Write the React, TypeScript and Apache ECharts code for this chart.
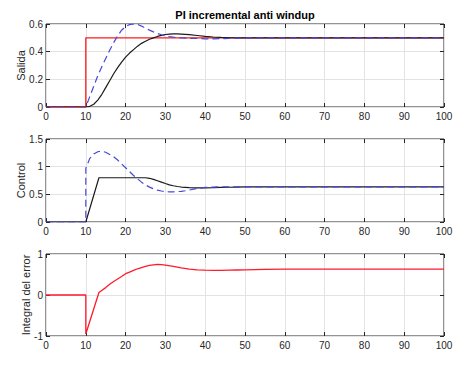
import React, { useEffect, useRef } from "react";
import * as echarts from "echarts";

const chartTitle = "PI incremental anti windup";
const yNames = ["Salida", "Control", "Integral del error"];
const xTicks = { min: 0, max: 100, interval: 10 };

// Salida (output)
const tRef = [0, 10, 10, 100];
const referencia = [0, 0, 0.5, 0.5];
const tSal = [0, 10, 11, 12, 13, 14, 15, 16, 17, 18, 19, 20, 21, 22, 23, 24, 25, 26, 27, 28, 29, 30, 31, 32, 33, 34, 36, 38, 40, 42, 44, 46, 48, 50, 55, 60, 100];
const salidaAW = [0, 0, 0.005, 0.02, 0.05, 0.09, 0.14, 0.19, 0.24, 0.285, 0.325, 0.36, 0.39, 0.415, 0.44, 0.46, 0.475, 0.49, 0.5, 0.51, 0.518, 0.524, 0.527, 0.528, 0.528, 0.527, 0.523, 0.517, 0.511, 0.506, 0.503, 0.501, 0.5, 0.5, 0.5, 0.5, 0.5];
const salidaSinAW = [0, 0, 0.075, 0.15, 0.225, 0.29, 0.35, 0.41, 0.465, 0.515, 0.555, 0.582, 0.596, 0.6, 0.597, 0.585, 0.57, 0.556, 0.543, 0.532, 0.522, 0.514, 0.509, 0.505, 0.502, 0.5, 0.497, 0.495, 0.493, 0.493, 0.494, 0.496, 0.498, 0.499, 0.5, 0.5, 0.5];

// Control
const tCtrlAW = [0, 10, 13.3, 24.5, 25, 26, 27, 28, 29, 30, 31, 32, 33, 34, 36, 38, 40, 42, 44, 46, 48, 50, 55, 60, 100];
const controlAW = [0, 0, 0.8, 0.8, 0.8, 0.79, 0.77, 0.745, 0.72, 0.695, 0.672, 0.655, 0.642, 0.632, 0.622, 0.618, 0.618, 0.62, 0.624, 0.628, 0.631, 0.633, 0.635, 0.635, 0.635];
const tCtrlSin = [0, 10, 10, 11, 12, 13, 14, 15, 16, 17, 18, 19, 20, 21, 22, 23, 24, 25, 26, 27, 28, 29, 30, 31, 32, 33, 34, 35, 36, 38, 40, 42, 44, 46, 48, 50, 55, 60, 100];
const controlSinAW = [0, 0, 0.97, 1.15, 1.23, 1.27, 1.28, 1.26, 1.22, 1.18, 1.12, 1.05, 0.98, 0.91, 0.84, 0.78, 0.72, 0.67, 0.63, 0.6, 0.575, 0.56, 0.55, 0.545, 0.545, 0.55, 0.555, 0.565, 0.578, 0.605, 0.625, 0.632, 0.636, 0.637, 0.636, 0.635, 0.635, 0.635, 0.635];

// Integral del error
const tInt = [0, 10, 10, 13.3, 14, 15, 16, 17, 18, 19, 20, 21, 22, 23, 24, 25, 26, 27, 28, 29, 30, 32, 34, 36, 38, 40, 42, 44, 46, 48, 50, 55, 60, 100];
const integralError = [0, 0, -0.95, 0.06, 0.11, 0.18, 0.26, 0.33, 0.39, 0.45, 0.52, 0.56, 0.6, 0.64, 0.67, 0.7, 0.72, 0.735, 0.745, 0.74, 0.73, 0.7, 0.66, 0.63, 0.615, 0.605, 0.6, 0.6, 0.605, 0.61, 0.615, 0.625, 0.63, 0.63];

const yRanges = [
  { min: 0, max: 0.6, interval: 0.2 },
  { min: 0, max: 1.5, interval: 0.5 },
  { min: -1, max: 1, interval: 1 },
];

const zip = (t: number[], v: number[]) => t.map((x, i) => [x, v[i]]);

const FONT = "'Liberation Sans', Arial, Helvetica, sans-serif";
const AXC = "#262626";

export default function App() {
  const ref = useRef<HTMLDivElement>(null);
  useEffect(() => {
    if (!ref.current) return;
    const chart = echarts.init(ref.current, undefined, { renderer: "svg" });
    const grids = [
      { left: 46, top: 24, width: 398, height: 83 },
      { left: 46, top: 139, width: 398, height: 83 },
      { left: 46, top: 254, width: 398, height: 82 },
    ].map((g) => ({ ...g, show: true, borderColor: AXC, borderWidth: 1, backgroundColor: "#fff" }));

    const xAxes: any[] = [];
    const yAxes: any[] = [];
    const nameGaps = [20, 20, 15];
    const tick = { show: true, inside: true, length: 4, lineStyle: { color: AXC } };
    grids.forEach((_, gi) => {
      xAxes.push({
        type: "value", gridIndex: gi, position: "bottom", ...xTicks,
        axisLine: { show: false, onZero: false },
        axisTick: tick,
        axisLabel: { color: AXC, fontSize: 10, fontFamily: FONT, margin: 4 },
        splitLine: { show: true, lineStyle: { color: "#e3e3e3", width: 1 } },
      });
      xAxes.push({
        type: "value", gridIndex: gi, position: "top", ...xTicks,
        axisLine: { show: false, onZero: false },
        axisTick: tick,
        axisLabel: { show: false },
        splitLine: { show: false },
      });
      yAxes.push({
        type: "value", gridIndex: gi, position: "left", ...yRanges[gi],
        name: yNames[gi], nameLocation: "middle", nameRotate: 90, nameGap: nameGaps[gi],
        nameMoveOverlap: false,
        nameTextStyle: { color: AXC, fontSize: 11, fontFamily: FONT },
        axisLine: { show: false, onZero: false },
        axisTick: tick,
        axisLabel: { color: AXC, fontSize: 10, fontFamily: FONT, margin: 3 },
        splitLine: { show: true, lineStyle: { color: "#e3e3e3", width: 1 } },
      });
      yAxes.push({
        type: "value", gridIndex: gi, position: "right", ...yRanges[gi],
        axisLine: { show: false, onZero: false },
        axisTick: tick,
        axisLabel: { show: false },
        splitLine: { show: false },
      });
    });

    const line = (data: number[][], gi: number, color: string, dashed = false, width = 1.2) => ({
      type: "line",
      xAxisIndex: gi * 2,
      yAxisIndex: gi * 2,
      data,
      showSymbol: false,
      symbol: "none",
      lineStyle: { color, width, type: dashed ? [7, 4] : "solid" },
    });

    chart.setOption({
      animation: false,
      backgroundColor: "#fff",
      grid: grids,
      xAxis: xAxes,
      yAxis: yAxes,
      graphic: [
        {
          type: "text", x: 245, y: 9,
          style: { text: chartTitle, font: `bold 11px ${FONT}`, fill: "#000", textAlign: "center" },
        },
      ],
      series: [
        line(zip(tRef, referencia), 0, "#ff1a1a", false, 1.3),
        line(zip(tSal, salidaAW), 0, "#1a1a1a"),
        line(zip(tSal, salidaSinAW), 0, "#4848d8", true),
        line(zip(tCtrlAW, controlAW), 1, "#1a1a1a"),
        line(zip(tCtrlSin, controlSinAW), 1, "#4848d8", true),
        line(zip(tInt, integralError), 2, "#ff1a2a", false, 1.3),
      ],
    });
    return () => chart.dispose();
  }, []);
  return (
    <div
      ref={ref}
      style={{ position: "fixed", left: 0, top: 0, width: 474, height: 368, background: "#fff" }}
    />
  );
}
